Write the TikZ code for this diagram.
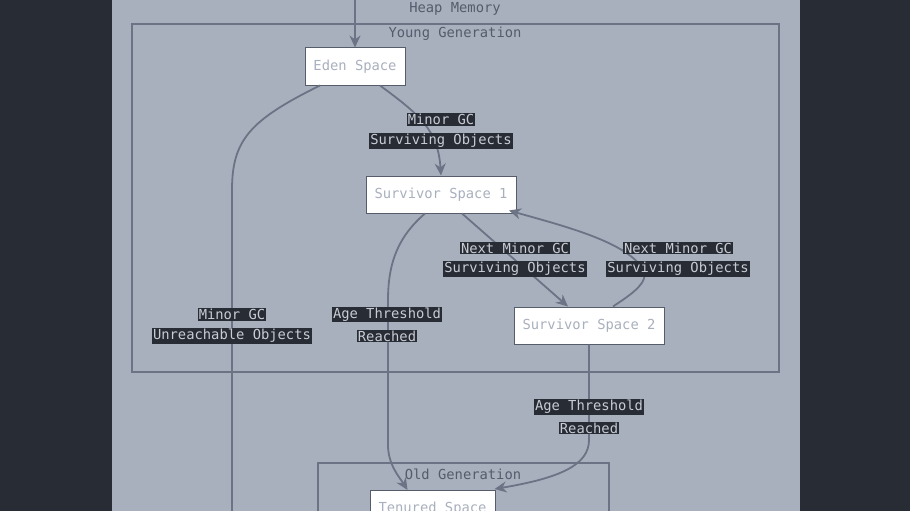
\documentclass[tikz,border=0pt]{standalone}
\usepackage{fontspec}
\setmonofont{DejaVu Sans Mono}
\usetikzlibrary{arrows.meta}
\definecolor{bgdark}{HTML}{282C34}
\definecolor{panel}{HTML}{A9B0BD}
\definecolor{edge}{HTML}{6B7385}
\definecolor{ntext}{HTML}{A9B0BD}
\definecolor{ltext}{HTML}{C8CCD4}
\definecolor{ttext}{HTML}{545B6B}
\tikzset{
  box/.style={draw=edge!80!black, line width=1pt, fill=white, text=ntext, font=\ttfamily\fontsize{13.8}{15}\selectfont, minimum height=37pt, inner xsep=7pt},
  lab/.style={fill=bgdark, text=ltext, font=\ttfamily\fontsize{13.8}{15}\selectfont, inner sep=1pt},
  ttl/.style={text=ttext, font=\ttfamily\fontsize{13.8}{15}\selectfont},
  grp/.style={draw=edge, line width=1.2pt},
  conn/.style={draw=edge, line width=1.8pt, -{Stealth[length=12pt,width=11pt]}},
  plain/.style={draw=edge, line width=1.8pt}
}
\begin{document}
\begin{tikzpicture}[x=1pt,y=-1pt]
\useasboundingbox (0,0) rectangle (910,511);
\fill[bgdark] (0,0) rectangle (910,511);
\fill[panel] (112,-5) rectangle (800,520);
\node[ttl] (heap) at (455,9) {Heap Memory};
\draw[grp] (132,24) rectangle (779,372);
\node[ttl] (young) at (455,34) {Young Generation};
\draw[grp] (318,463) rectangle (609,530);
\node[ttl] (old) at (463,474) {Old Generation};
\node[box, minimum width=100pt] (eden) at (355,66.5) {Eden Space};
\node[box, minimum width=150pt] (s1) at (441,194.5) {Survivor Space 1};
\node[box, minimum width=150pt] (s2) at (589,325.5) {Survivor Space 2};
\node[box, minimum width=125pt] (ten) at (432.5,509) {Tenured Space};
\coordinate (top) at (355,-5);
\coordinate (bot) at (232,520);
\draw[conn] (top) -- (eden.north);
\draw[conn] ([xshift=25pt]eden.south) .. controls (420,115) and (438,130) .. (s1.north);
\draw[plain] ([xshift=-35pt]eden.south) .. controls (250,120) and (232,140) .. (232,190) -- (bot);
\draw[conn] ([xshift=-16pt]s1.south) .. controls (400,235) and (388,260) .. (388,300) -- (388,445) .. controls (388,465) and (400,478) .. ([xshift=-25pt]ten.north);
\draw[conn] ([xshift=21pt]s1.south) -- ([xshift=-21pt]s2.north);
\draw[conn] ([xshift=24pt]s2.north) .. controls (630,295) and (655,280) .. (640,265) .. controls (620,240) and (560,225) .. ([xshift=68pt,yshift=3pt]s1.south);
\draw[conn] (s2.south) -- (589,440) .. controls (589,465) and (560,478) .. ([xshift=62pt,yshift=1pt]ten.north);
\node[lab] (l1a) at (441,119.5) {Minor GC};
\node[lab] (l1b) at (441,141) {Surviving Objects};
\node[lab] (l2a) at (232,314.5) {Minor GC};
\node[lab] (l2b) at (232,336) {Unreachable Objects};
\node[lab] (l3a) at (387,314.5) {Age Threshold};
\node[lab] (l3b) at (387,336) {Reached};
\node[lab] (l4a) at (515,248) {Next Minor GC};
\node[lab] (l4b) at (515,269) {Surviving Objects};
\node[lab] (l5a) at (678,248) {Next Minor GC};
\node[lab] (l5b) at (678,269) {Surviving Objects};
\node[lab] (l6a) at (589,407) {Age Threshold};
\node[lab] (l6b) at (589,428) {Reached};
\end{tikzpicture}
\end{document}
